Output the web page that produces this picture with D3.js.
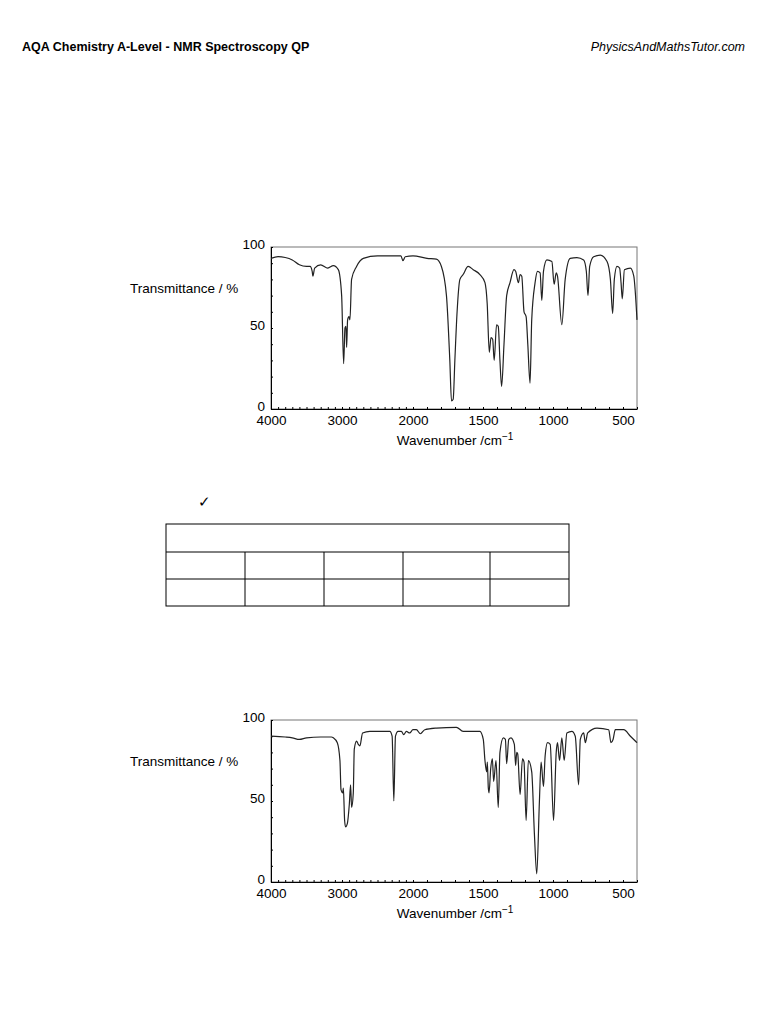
<!DOCTYPE html>
<html>
<head>
<meta charset="utf-8">
<script src="https://cdn.jsdelivr.net/npm/d3@7"></script>
<style>
  body { margin: 0; background: #fff; }
  svg { font-family: "Liberation Sans", Arial, sans-serif; }
</style>
</head>
<body>
<svg id="page" width="768" height="1024"></svg>
<script>
// spectrum 1: [wavenumber, transmittance]
const spectrumA = [
  [4000,93],[3900,94],[3800,93.5],[3700,92],[3600,89],[3500,88],[3450,88],[3420,85],[3410,82],[3385,87],
  [3300,89],[3200,87],[3122,88.5],[3052,86],[3005,70],[2977,28],[2958,50],[2944,51],[2935,38],[2921,55],
  [2902,57],[2888,55],[2865,80],[2795,88],[2700,93],[2500,94.5],[2300,94.5],[2170,94.5],[2141,91.5],[2110,94],
  [2000,94.5],[1900,93],[1833,92.5],[1797,88],[1761,70],[1737,30],[1725,5],[1713,6],[1701,30],[1685,60],
  [1665,80],[1642,83],[1606,88],[1570,86],[1522,83],[1486,78],[1470,65],[1455,35],[1443,44],[1431,43],
  [1420,30],[1403,52],[1391,51],[1379,30],[1367,14],[1350,40],[1331,70],[1307,78],[1279,86],[1267,85],
  [1247,78],[1235,83],[1223,82],[1207,60],[1192,57],[1180,40],[1164,16],[1152,55],[1128,78],[1111,85],
  [1092,84],[1080,67],[1068,85],[1044,92],[1008,91],[992,77],[977,84],[968,82],[937,52],[913,80],
  [877,93],[829,93.5],[781,92],[762,85],[750,70],[738,88],[710,94],[662,95],[614,91],[590,80],
  [574,59],[562,80],[543,88],[524,87],[514,78],[505,68],[490,86],[447,87],[423,82],[400,55]
];
// spectrum 2
const spectrumB = [
  [4000,90],[3800,89.5],[3700,89],[3600,88],[3500,89],[3300,89.5],[3150,89.5],[3122,89],[3066,86],[3029,75],
  [3014,57],[2991,55],[2981,58],[2963,38],[2949,34],[2925,36],[2897,48],[2879,60],[2865,46],[2841,55],
  [2827,82],[2795,87],[2771,85],[2748,84],[2710,92],[2608,93],[2327,93],[2294,90],[2270,50],[2247,90],
  [2210,93],[2163,93],[2131,91],[2093,93],[2047,92],[2000,94],[1976,94],[1947,91.5],[1916,94],[1833,95],
  [1690,95.5],[1642,93],[1522,93],[1498,88],[1486,75],[1474,68],[1469,74],[1462,58],[1457,55],[1445,70],
  [1433,76],[1424,62],[1407,75],[1391,46],[1379,80],[1355,89],[1340,88],[1331,73],[1316,88],[1300,89],
  [1276,85],[1267,72],[1259,80],[1252,79],[1235,54],[1218,76],[1207,74],[1192,38],[1176,75],[1152,68],
  [1133,30],[1116,5],[1097,50],[1085,74],[1068,59],[1056,78],[1039,86],[1020,85],[996,38],[977,80],
  [968,86],[953,75],[937,89],[920,75],[901,92],[865,93],[841,90],[817,60],[805,88],[781,92],
  [769,86],[752,92],[686,95],[602,94],[586,86],[571,88],[555,94],[495,94],[447,90],[400,86]
];
const xTicks = [4000, 3000, 2000, 1500, 1000, 500];
const yTicks = [0, 50, 100];

const svg = d3.select('#page');

svg.append('text').attr('x', 22).attr('y', 51)
  .attr('font-size', 12.5).attr('font-weight', 'bold')
  .text('AQA Chemistry A-Level - NMR Spectroscopy QP');
svg.append('text').attr('x', 745).attr('y', 51)
  .attr('font-size', 12.5).attr('font-style', 'italic').attr('text-anchor', 'end')
  .text('PhysicsAndMathsTutor.com');

function drawSpectrum(data, top) {
  const x = d3.scaleLinear().domain([4000, 2000, 400]).range([271, 413, 637]);
  const y = d3.scaleLinear().domain([0, 100]).range([top + 162, top]);
  const g = svg.append('g');

  g.append('rect').attr('x', 271).attr('y', top).attr('width', 366).attr('height', 162)
    .attr('fill', 'none').attr('stroke', '#777').attr('stroke-width', 1);

  const xAxis = g.append('g').attr('transform', 'translate(0,' + (top + 162) + ')')
    .call(d3.axisBottom(x).tickValues(xTicks).tickSize(0).tickPadding(6).tickFormat(d3.format('d')));
  xAxis.select('.domain').attr('stroke', '#000');
  xAxis.selectAll('text').attr('font-size', 13.5).attr('fill', '#000');
  g.append('g').attr('transform', 'translate(0,' + (top + 162) + ')')
    .call(d3.axisTop(x).tickValues(d3.range(4000, 399, -100)).tickSize(2).tickFormat(''))
    .select('.domain').remove();

  const yAxis = g.append('g').attr('transform', 'translate(271,0)')
    .call(d3.axisLeft(y).tickValues(yTicks).tickSize(0).tickPadding(6));
  yAxis.select('.domain').attr('stroke', '#000');
  yAxis.selectAll('text').attr('font-size', 13.5).attr('fill', '#000').attr('dy', '0.1em');
  g.append('g').attr('transform', 'translate(271,0)')
    .call(d3.axisRight(y).tickValues(d3.range(0, 101, 10)).tickSize(2).tickFormat(''))
    .select('.domain').remove();

  const line = d3.line().x(d => x(d[0])).y(d => y(d[1])).curve(d3.curveMonotoneX);
  g.append('path').datum(data.map(d => [d[0], d[1]]).reverse())
    .attr('d', line).attr('fill', 'none').attr('stroke', '#222').attr('stroke-width', 1.2);

  g.append('text').attr('x', 130).attr('y', top + 46).attr('font-size', 13.5)
    .text('Transmittance / %');
  const lab = g.append('text').attr('x', 455).attr('y', top + 198).attr('font-size', 13.5)
    .attr('text-anchor', 'middle').text('Wavenumber /cm');
  lab.append('tspan').attr('dy', -5).attr('font-size', 10).text('\u22121');
}

drawSpectrum(spectrumA, 247);
drawSpectrum(spectrumB, 720);

svg.append('text').attr('x', 198).attr('y', 507).attr('font-size', 15).text('\u2713');

const t = svg.append('g').attr('fill', 'none').attr('stroke', '#000').attr('stroke-width', 1);
t.append('rect').attr('x', 166).attr('y', 524).attr('width', 403).attr('height', 82);
[552, 579].forEach(v => t.append('line').attr('x1', 166).attr('x2', 569).attr('y1', v).attr('y2', v));
[245, 324, 403, 490].forEach(v => t.append('line').attr('x1', v).attr('x2', v).attr('y1', 552).attr('y2', 606));
</script>
</body>
</html>
